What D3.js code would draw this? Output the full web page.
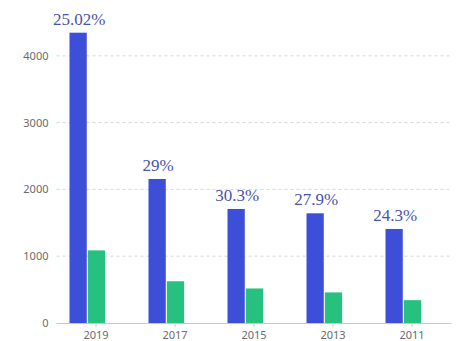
<!DOCTYPE html>
<html>
<head>
<meta charset="utf-8">
<script src="https://cdn.jsdelivr.net/npm/d3@7/dist/d3.min.js"></script>
<style>
  html, body { margin: 0; padding: 0; background: #fff; }
  svg { display: block; }
  .share { font-family: "Liberation Serif", "DejaVu Serif", serif; font-size: 17px; }
  .tick text { font-family: "Noto Sans", "DejaVu Sans", sans-serif; font-size: 11px; }
</style>
</head>
<body>
<svg id="chart" width="474" height="341"></svg>
<script>
// Years shown along the x axis
const years = ["2019", "2017", "2015", "2013", "2011"];
// Total count per year (blue bars)
const totals = [4346, 2156, 1707, 1642, 1407];
// Subset count per year (green bars)
const subset = [1087, 625, 517, 458, 342];
// Share of the subset in the total, printed over each blue bar
const shareLabels = ["25.02%", "29%", "30.3%", "27.9%", "24.3%"];
// Y axis tick values
const yTicks = [0, 1000, 2000, 3000, 4000];

const svg = d3.select("#chart");
const margin = { left: 56.5, right: 22.5 };
const W = 474;
const plotBottom = 323;

const x = d3.scaleBand()
  .domain(years)
  .range([margin.left, W - margin.right])
  .paddingInner(0)
  .paddingOuter(0);

// three slots per year: blue, green and an empty third slot
const slot = d3.scaleBand()
  .domain(["total", "subset", "spare"])
  .range([13, 67])
  .paddingInner(0.06);

const y = d3.scaleLinear()
  .domain([0, 4000])
  .range([plotBottom, 55.8]);

// Dashed horizontal grid lines
svg.append("g")
  .selectAll("line")
  .data(yTicks.filter(d => d > 0))
  .join("line")
  .attr("x1", margin.left)
  .attr("x2", W - margin.right)
  .attr("y1", d => y(d))
  .attr("y2", d => y(d))
  .attr("stroke", "#d6d6d6")
  .attr("stroke-width", 1)
  .attr("stroke-dasharray", "3,3");

// Y axis labels (no axis line)
const yAxis = d3.axisLeft(y).tickValues(yTicks).tickSize(0).tickPadding(8).tickFormat(d3.format("d"));
const gy = svg.append("g")
  .attr("transform", `translate(${margin.left},0)`)
  .call(yAxis);
gy.select(".domain").remove();
gy.selectAll("text").attr("fill", "#6a6a6a");

// Bars
const groups = svg.append("g")
  .selectAll("g")
  .data(years.map((yr, i) => ({ yr, total: totals[i], subset: subset[i], label: shareLabels[i] })))
  .join("g")
  .attr("transform", d => `translate(${x(d.yr)},0)`);

groups.append("rect")
  .attr("x", slot("total"))
  .attr("width", slot.bandwidth())
  .attr("y", d => y(d.total))
  .attr("height", d => y(0) - y(d.total))
  .attr("fill", "#3d4ed8");

groups.append("rect")
  .attr("x", slot("subset"))
  .attr("width", slot.bandwidth())
  .attr("y", d => y(d.subset))
  .attr("height", d => y(0) - y(d.subset))
  .attr("fill", "#27c17f");

groups.append("text")
  .attr("class", "share")
  .attr("x", slot("total") + slot.bandwidth() / 2 + 1)
  .attr("y", d => y(d.total) - 8)
  .attr("text-anchor", "middle")
  .attr("fill", "#4a53a8")
  .text(d => d.label);

// X axis
const xAxis = d3.axisBottom(x).tickSize(4).tickPadding(4);
const gx = svg.append("g")
  .attr("transform", `translate(0,${plotBottom})`)
  .call(xAxis);
gx.select(".domain").attr("stroke", "#c8c8c8").attr("d", `M${margin.left},0.5H${W - margin.right}`);
gx.selectAll(".tick line").attr("stroke", "#c8c8c8");
gx.selectAll("text").attr("fill", "#6a6a6a");
</script>
</body>
</html>
